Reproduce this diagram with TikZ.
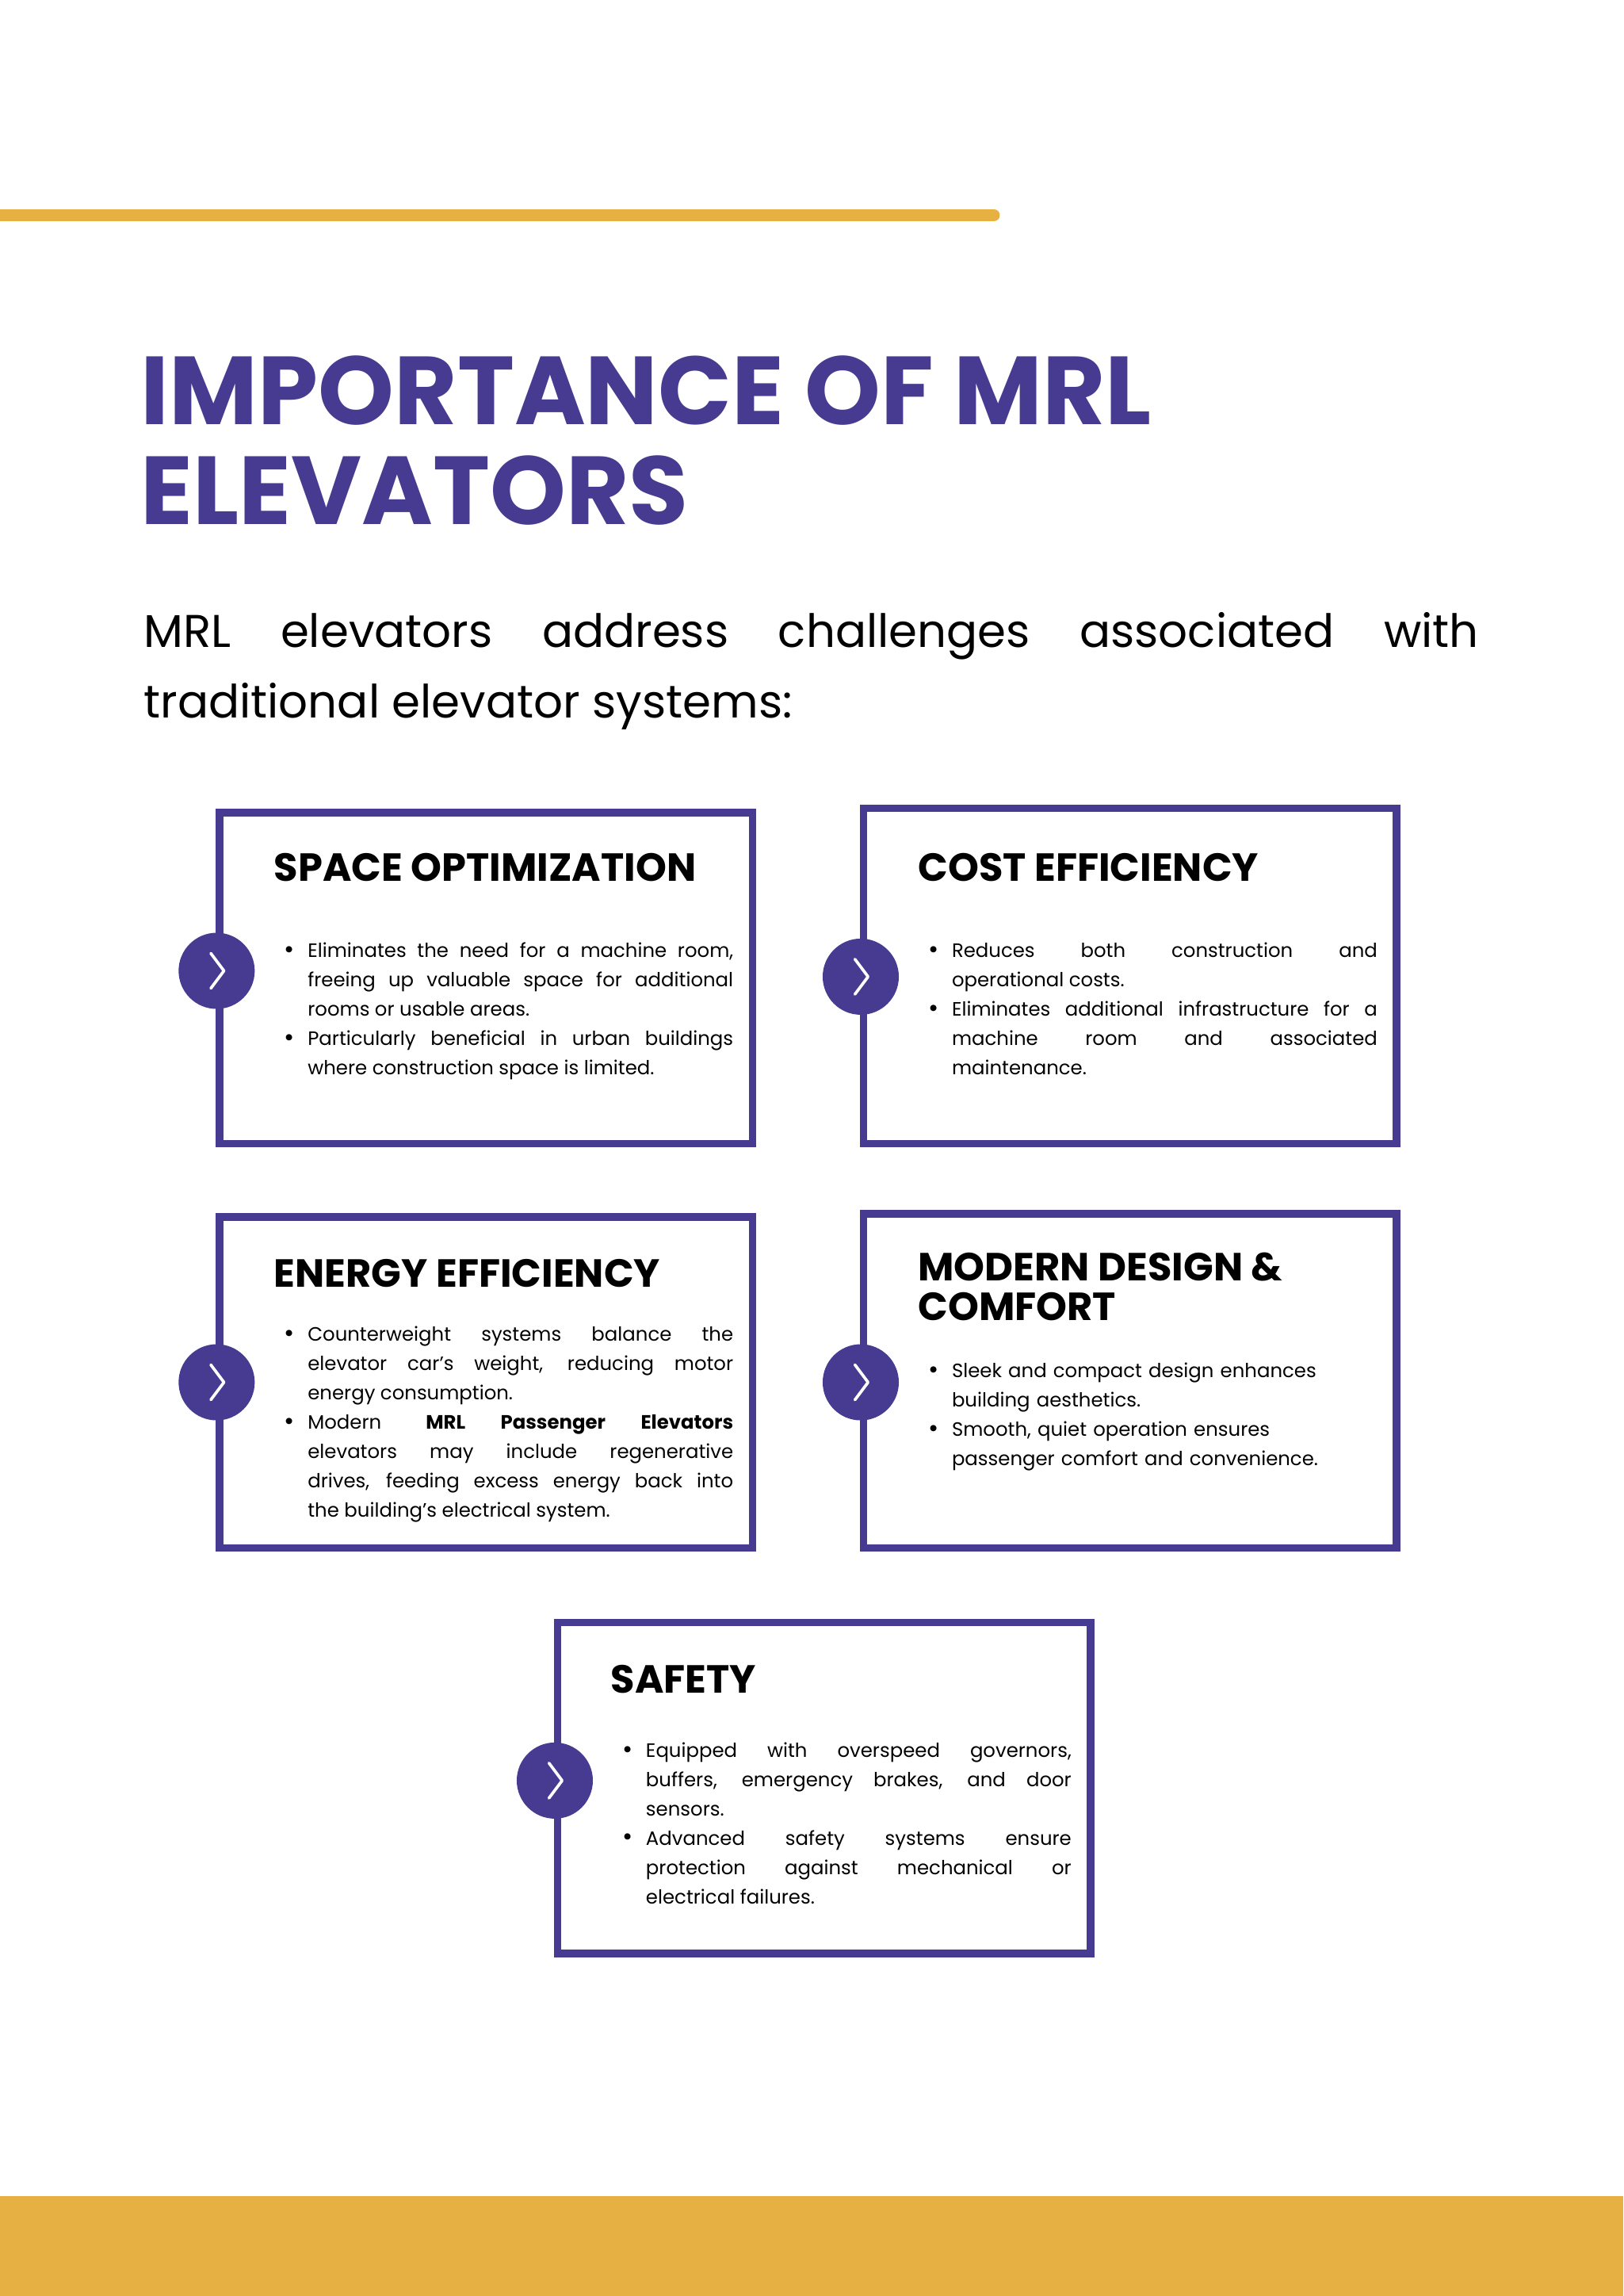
\documentclass[tikz,border=0pt]{standalone}
\usepackage{fontspec}
\setmainfont{Poppins}
\definecolor{pur}{HTML}{463A91}
\definecolor{yel}{HTML}{E6B043}
\newcommand{\bitem}[1]{\hyphenpenalty=10000\exhyphenpenalty=10000\noindent\hangindent=12pt\hangafter=1\makebox[12pt][l]{\raisebox{-0.3pt}{\fontsize{13}{13}\selectfont•}}#1\par}
\tikzset{
 card/.style={draw=pur,line width=3.8pt},
 dot/.style={circle,fill=pur,minimum size=39pt,inner sep=0pt},
 head/.style={anchor=base west,inner sep=0pt,font=\fontsize{20.1}{20.3}\selectfont\bfseries,align=left},
 body/.style={anchor=base west,inner sep=0pt,text width=230pt,align=justify,font=\fontsize{9.9}{15}\selectfont},
}
\begin{document}
\begin{tikzpicture}[x=0.75pt,y=-0.75pt]
\useasboundingbox (0,0) rectangle (1109,1568);
\fill[white] (0,0) rectangle (1109,1568);
\draw[yel,line width=6pt,line cap=round] (0,147) -- (679,147);
\fill[yel] (0,1500) rectangle (1109,1568);
\node[anchor=base west,inner sep=0pt,text=pur,font=\fontsize{49.5}{51}\selectfont\bfseries,align=left] (title) at (96,358) {IMPORTANCE OF MRL\\ELEVATORS};
\node[anchor=base west,inner sep=0pt,text width=684pt,align=justify,font=\fontsize{23.5}{36}\selectfont] (intro) at (98,442) {MRL elevators address challenges associated with\linebreak traditional elevator systems:};
% boxes
\draw[card] (150,555) rectangle (514,781);
\draw[card] (590,552) rectangle (954,781);
\draw[card] (150,831) rectangle (514,1057);
\draw[card] (590,829) rectangle (954,1057);
\draw[card] (381,1108) rectangle (745,1334);
\foreach \n/\x/\y in {c1/148/663,c2/588/667,c3/148/944,c4/588/944,c5/379/1216}{
 \node[dot] (\n) at (\x,\y) {};
 \draw[white,line width=1.5pt,line cap=round,line join=round] ([shift={(-4,-12)}]\n.center) -- ([shift={(5,0)}]\n.center) -- ([shift={(-4,12)}]\n.center);
}
\node[head] (h1) at (187,602) {SPACE OPTIMIZATION};
\node[head] (h2) at (627,602) {COST EFFICIENCY};
\node[head] (h3) at (187,879) {ENERGY EFFICIENCY};
\node[head] (h4) at (627,902) {MODERN DESIGN \&\\COMFORT};
\node[head] (h5) at (417,1156) {SAFETY};
\node[body] (b1) at (194,654) {\bitem{Eliminates the need for a machine room,\linebreak freeing up valuable space for additional\linebreak rooms or usable areas.}\bitem{Particularly beneficial in urban buildings\linebreak where construction space is limited.}};
\node[body] (b2) at (634,654) {\bitem{Reduces both construction and\linebreak operational costs.}\bitem{Eliminates additional infrastructure for a\linebreak machine room and associated\linebreak maintenance.}};
\node[body] (b3) at (194,916) {\bitem{Counterweight systems balance the\linebreak elevator car’s weight, reducing motor\linebreak energy consumption.}\bitem{Modern \textbf{MRL Passenger Elevators}\linebreak elevators may include regenerative\linebreak drives, feeding excess energy back into\linebreak the building’s electrical system.}};
\node[body,align=left] (b4) at (634,941) {\bitem{Sleek and compact design enhances\newline building aesthetics.}\bitem{Smooth, quiet operation ensures\newline passenger comfort and convenience.}};
\node[body] (b5) at (425,1200) {\bitem{Equipped with overspeed governors,\linebreak buffers, emergency brakes, and door\linebreak sensors.}\bitem{Advanced safety systems ensure\linebreak protection against mechanical or\linebreak electrical failures.}};
\end{tikzpicture}
\end{document}
